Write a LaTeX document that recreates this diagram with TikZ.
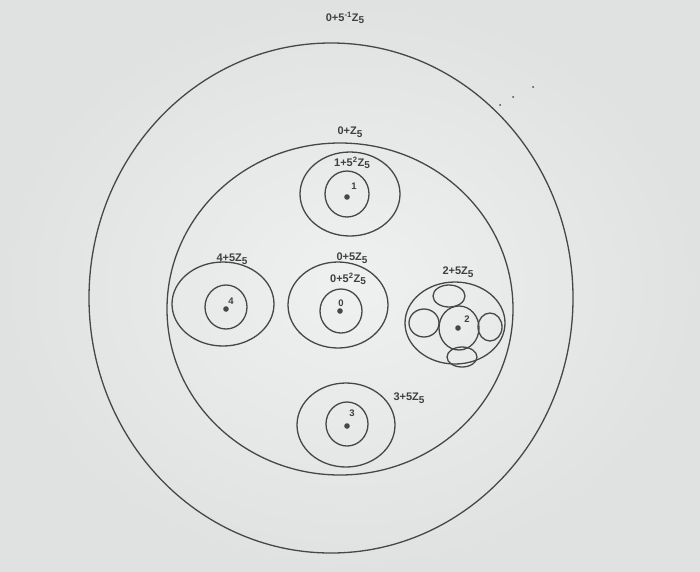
\documentclass[tikz,border=0pt]{standalone}
\usepackage{fontspec}
\setmainfont{Liberation Sans}
\usepackage{xcolor}
\usetikzlibrary{positioning}
\definecolor{paper}{RGB}{224,226,226}
\definecolor{paperlight}{RGB}{239,240,240}
\definecolor{ink}{RGB}{70,72,72}
\definecolor{txt}{RGB}{62,64,64}
\newcommand{\Zf}{Z\raisebox{-0.45ex}{\fontsize{10}{10}\selectfont 5}}
\tikzset{
  ball/.style={draw=ink,line width=1.3pt},
  lbl/.style={text=txt,inner sep=1pt,font=\bfseries\fontsize{11}{13}\selectfont},
  pt/.style={text=txt,inner sep=0.5pt,font=\bfseries\fontsize{9.5}{11}\selectfont}
}
\begin{document}
\begin{tikzpicture}[x=1pt,y=-1pt]
	\useasboundingbox (0,0) rectangle (700,571);
	\shade[inner color=paperlight,outer color=paper] (0,0) rectangle (700,571);
	% level -1 and level 0
	\draw[ball] (331,298) ellipse [x radius=242,y radius=255];
	\draw[ball] (340,309) ellipse [x radius=173,y radius=166];
	\node[lbl] (zm1) at (345,18) {0+5\textsuperscript{-1}\Zf};
	\node[lbl] (z0) at (350,132) {0+\Zf};
	% the five balls 0,1,2,3,4 + 5Z_5
	\draw[ball] (350,194) ellipse [x radius=50,y radius=42];
	\draw[ball] (347,194) ellipse [x radius=22,y radius=23];
	\node[lbl] (b1) at (352,163) {1+5\textsuperscript{2}\Zf};
	\draw[ball] (223,304) ellipse [x radius=51,y radius=42];
	\draw[ball] (226,307) ellipse [x radius=21,y radius=22];
	\node[lbl] (b4) at (232,259) {4+5\Zf};
	\draw[ball] (338,305) ellipse [x radius=50,y radius=43];
	\draw[ball] (341,311) ellipse [x radius=21,y radius=22];
	\node[lbl] (b0) at (352,258) {0+5\Zf};
	\node[lbl] (b00) at (348,279) {0+5\textsuperscript{2}\Zf};
	\draw[ball] (455,323) ellipse [x radius=50,y radius=41];
	\draw[ball] (459,328) ellipse [x radius=20,y radius=22];
	\draw[ball] (449,296) ellipse [x radius=16,y radius=11];
	\draw[ball] (424,323) ellipse [x radius=15,y radius=14];
	\draw[ball] (490,327) ellipse [x radius=12,y radius=14];
	\draw[ball] (462,357) ellipse [x radius=15,y radius=10];
	\node[lbl] (b2) at (458,272) {2+5\Zf};
	\draw[ball] (346,425) ellipse [x radius=49,y radius=42];
	\draw[ball] (347,424) ellipse [x radius=21,y radius=22];
	\node[lbl] (b3) at (409,398) {3+5\Zf};
	% centres
	\fill[ink] (347,197) circle [radius=2.8];
	\node[pt] (c1) at (354,186) {1};
	\fill[ink] (226,309) circle [radius=2.8];
	\node[pt] (c4) at (231,301) {4};
	\fill[ink] (340,311) circle [radius=2.8];
	\node[pt] (c0) at (341,303) {0};
	\fill[ink] (458,328) circle [radius=2.8];
	\node[pt] (c2) at (467,319) {2};
	\fill[ink] (347,426) circle [radius=2.8];
	\node[pt] (c3) at (352,413) {3};
	% specks
	\fill[ink] (500,105) circle [radius=1];
	\fill[ink] (513,97) circle [radius=1];
	\fill[ink] (533,87) circle [radius=1];
\end{tikzpicture}
\end{document}
